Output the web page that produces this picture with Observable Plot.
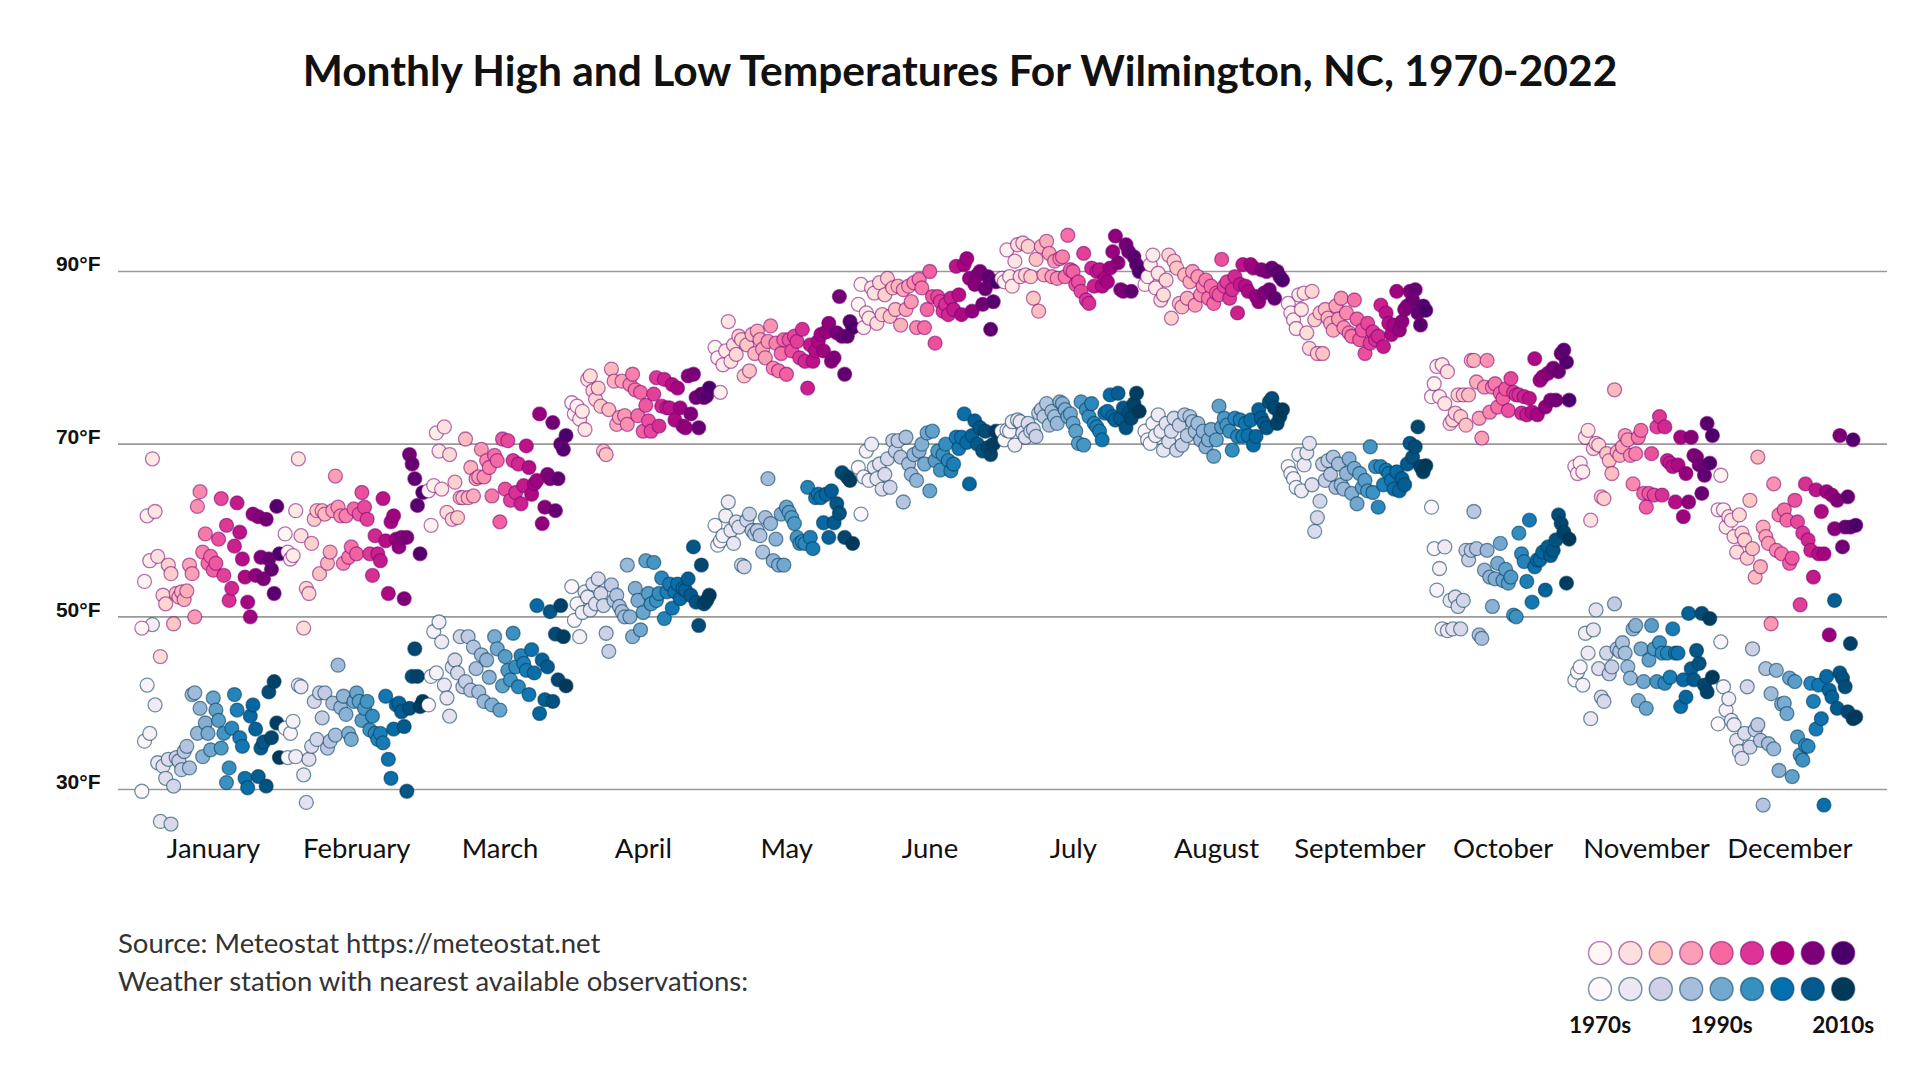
<!DOCTYPE html>
<html><head><meta charset="utf-8">
<script src="https://cdn.jsdelivr.net/npm/d3@7"></script>
<script src="https://cdn.jsdelivr.net/npm/@observablehq/plot@0.6"></script>
<style>
body{margin:0;background:#fff;}
#wrap{position:relative;width:1920px;height:1078px;overflow:hidden;font-family:Lato, sans-serif;background:#fff;}
#title{position:absolute;left:0;width:1920px;top:44px;text-align:center;font-size:42.5px;font-weight:700;color:#111;line-height:52px;}
#chart{position:absolute;left:0;top:130px;}
#source{position:absolute;left:118px;top:924px;font-size:27.5px;line-height:38px;color:#333;font-weight:400;}
#legend{position:absolute;left:1570px;top:925px;}
</style></head><body>
<div id="wrap">
 <div id="title">Monthly High and Low Temperatures For Wilmington, NC, 1970-2022</div>
 <div id="chart"></div>
 <div id="source">Source: Meteostat https://meteostat.net<br>Weather station with nearest available observations:</div>
 <div id="legend"></div>
</div>
<script>
const months = ["January","February","March","April","May","June","July","August","September","October","November","December"];
const firstYear = 1970, lastYear = 2022;
const yTicks = [30, 50, 70, 90];
const legendLabels = ["1970s", "1990s", "2010s"];

// Monthly mean high temperatures (°F), 1970..2022
const highJan = [48.7,54.1,61.7,56.5,68.3,62.2,57.0,45.4,52.5,51.5,56.0,55.0,49.2,52.7,52.3,52.9,52.0,53.0,56.0,55.0,50.0,62.8,64.5,57.5,59.6,56.2,57.0,55.4,56.2,59.0,63.7,54.8,60.6,51.9,53.3,58.2,63.2,59.8,56.7,54.6,51.7,50.0,61.9,54.8,61.6,56.9,54.4,61.3,56.7,55.5,52.7,62.8,57.3];
const highFeb = [59.6,57.5,56.7,57.1,62.3,68.3,59.4,48.7,53.3,52.7,58.5,61.3,62.3,55.0,62.3,61.9,56.2,57.5,62.3,66.3,62.7,61.7,56.2,61.7,56.9,58.1,62.5,57.3,61.9,64.4,62.7,61.3,57.3,54.8,59.4,57.3,56.5,63.7,58.8,52.7,61.0,61.7,59.0,58.1,59.2,52.1,59.2,68.8,67.7,66.0,62.9,57.3,64.4];
const highMar = [64.6,60.6,65.2,71.3,69.2,64.8,72.0,62.1,68.8,61.3,65.6,61.5,63.8,63.8,70.6,63.8,67.3,64.0,66.0,66.2,69.4,66.2,68.1,67.3,64.0,68.7,68.1,61.0,70.6,64.8,70.4,63.5,68.1,64.4,67.7,63.1,65.2,69.8,67.3,64.2,65.4,65.8,73.5,60.8,62.7,66.5,66.0,72.5,62.3,66.0,70.0,69.4,71.0];
const highApr = [74.8,73.5,74.4,72.9,73.8,71.7,77.5,77.9,76.2,75.2,76.5,74.4,69.2,68.8,74.0,78.7,77.3,72.3,73.1,77.3,73.3,72.3,76.9,78.1,76.3,73.3,76.0,71.5,74.5,72.7,71.5,75.8,77.7,72.1,74.4,77.5,74.2,74.2,76.9,72.8,76.5,74.2,72.1,71.9,77.9,73.5,78.1,75.4,71.9,75.8,75.4,75.6,76.5];
const highMay = [81.2,80.0,76.0,79.2,80.8,84.2,79.6,81.5,80.4,82.5,82.1,77.9,81.5,78.5,82.7,80.5,83.1,82.1,81.0,80.0,81.9,83.7,78.8,81.7,78.5,80.5,82.1,78.1,82.1,80.8,82.5,81.9,80.0,83.3,79.6,76.5,81.5,79.6,80.8,81.9,82.7,80.8,83.0,84.0,79.6,80.0,82.9,87.1,82.5,78.1,82.5,84.2,83.5];
const highJun = [86.2,88.5,83.5,85.2,84.6,88.1,87.5,84.0,88.7,85.0,87.3,89.2,84.8,88.1,85.6,88.3,83.8,87.9,85.6,88.3,86.5,88.7,83.5,89.1,88.1,83.5,85.6,90.0,87.1,81.7,87.1,86.5,85.4,86.2,85.0,86.9,85.6,90.6,87.3,85.0,90.8,91.5,89.2,85.4,88.5,89.6,90.0,86.2,88.0,89.4,83.3,86.5,88.8];
const highJul = [89.2,88.8,92.5,89.4,88.3,91.2,93.1,89.4,93.3,89.6,92.9,89.4,86.9,91.4,85.4,92.9,89.6,93.5,92.1,89.4,91.2,89.2,91.5,91.7,89.4,94.2,90.2,90.0,88.5,88.8,87.7,92.1,86.7,86.3,90.4,88.3,90.0,90.2,88.3,89.2,88.8,90.4,92.3,94.1,91.0,87.9,87.7,93.1,92.3,87.7,91.7,90.8,90.0];
const highAug = [88.5,89.4,90.8,91.9,88.1,89.8,86.7,87.3,89.0,91.9,84.6,91.2,90.4,86.3,85.9,89.6,86.9,88.8,90.0,86.1,89.4,87.3,88.3,89.0,86.9,88.3,86.3,87.5,87.3,91.4,88.3,88.8,86.9,87.9,89.4,85.2,88.5,90.8,88.3,87.7,90.8,90.4,87.1,86.5,90.2,87.5,90.0,87.9,90.4,86.9,90.0,89.4,89.0];
const highSep = [86.3,85.2,84.4,83.4,87.3,85.6,87.5,82.9,81.1,87.7,84.4,80.5,85.2,80.5,85.6,84.6,84.0,83.2,86.0,84.5,86.9,83.5,85.2,82.9,82.5,86.7,84.5,82.1,83.2,80.5,84.0,81.7,83.0,82.1,82.5,86.1,81.3,85.2,84.0,82.7,83.8,87.7,83.2,84.2,85.6,86.0,87.7,86.7,87.9,85.2,83.8,86.0,85.5];
const highOct = [75.5,77.0,79.0,75.5,79.2,74.7,78.4,72.4,72.8,73.6,75.7,73.2,75.7,72.2,75.7,79.7,79.7,77.2,73.0,70.7,76.6,79.7,73.7,76.6,77.0,74.3,75.9,75.3,76.4,73.9,77.6,76.0,75.7,75.7,73.6,75.5,73.4,75.3,73.7,79.9,73.4,77.4,77.8,74.3,78.2,75.1,78.8,75.1,78.4,80.5,80.9,79.5,75.1];
const highNov = [67.4,66.6,67.8,66.8,70.8,71.6,61.2,69.5,70.1,69.9,63.9,63.7,68.9,68.1,66.6,76.3,69.1,68.7,69.7,71.0,70.5,68.7,65.4,68.9,70.8,71.6,64.3,62.7,64.3,68.9,64.1,72.0,73.2,64.1,72.0,68.1,67.8,67.4,63.3,67.6,70.8,61.6,66.6,63.3,70.8,68.7,68.5,67.6,64.3,66.4,72.4,67.8,71.0];
const highDec = [62.4,66.4,62.4,60.4,61.6,61.2,59.3,57.5,61.8,59.7,58.9,56.8,63.5,57.9,54.6,68.5,55.8,60.4,59.3,58.5,49.2,65.4,57.7,61.8,57.3,62.4,61.2,56.2,56.8,63.5,61.0,51.4,59.7,65.4,58.9,57.7,54.6,64.7,57.3,62.2,57.3,64.5,47.9,64.1,60.2,63.5,71.0,58.1,60.4,63.9,60.4,70.5,60.6];

// Monthly mean low temperatures (°F), 1970..2022
const lowJan = [29.8,35.6,42.1,36.5,49.1,39.8,33.1,26.3,32.7,31.3,33.5,26.0,30.4,33.7,33.3,32.3,34.4,35.0,32.5,41.0,41.2,36.5,39.4,33.8,37.7,36.5,34.6,40.6,39.2,38.0,34.8,36.5,30.8,32.5,37.1,41.0,39.2,36.0,35.0,31.3,30.2,38.5,39.8,37.0,31.5,34.8,35.5,30.4,41.3,36.0,42.5,37.7,33.7];
const lowFeb = [37.1,33.7,36.5,37.9,33.8,42.1,41.9,31.7,28.5,33.5,35.0,40.2,35.8,41.2,38.3,41.2,34.8,35.6,40.0,36.3,44.4,39.5,40.8,38.7,36.5,35.8,40.2,41.2,40.2,38.0,39.4,40.2,36.9,38.5,36.5,35.8,36.5,35.4,40.8,33.5,31.3,37.0,39.8,40.0,39.0,37.3,29.8,39.4,43.1,46.3,43.1,39.6,40.2];
const lowMar = [39.8,43.1,48.3,43.5,49.4,47.1,42.1,40.6,38.5,44.2,45.0,43.5,47.7,41.9,42.5,47.7,41.5,46.5,44.0,41.3,45.6,40.2,45.0,43.0,39.8,47.7,46.3,39.2,42.0,45.4,43.8,42.7,48.1,44.2,41.9,45.5,44.6,43.8,41.0,46.2,43.5,51.3,38.8,45.0,40.4,44.2,50.6,40.2,48.0,42.7,51.3,47.7,42.0];
const lowApr = [53.5,49.6,51.5,47.7,50.5,52.9,52.3,50.8,53.8,51.5,54.4,52.7,51.3,48.1,46.0,53.7,51.9,52.5,51.2,50.6,50.0,56.0,50.0,47.7,53.3,51.9,48.5,50.5,56.5,52.7,51.5,56.3,51.9,52.7,54.5,49.8,52.9,53.8,51.0,52.9,53.8,52.1,53.3,53.1,54.4,52.5,58.1,51.7,49.0,56.0,51.5,51.9,52.5];
const lowMay = [60.6,58.3,58.8,59.4,61.7,63.3,60.0,58.5,61.0,60.4,56.0,55.8,61.2,61.9,60.0,59.6,60.0,59.4,57.5,61.5,66.0,60.8,56.5,59.0,56.0,61.9,56.0,62.7,62.1,61.5,60.8,59.2,58.5,58.7,58.5,65.0,59.2,57.9,63.8,64.2,63.8,60.9,64.2,59.2,64.6,60.9,63.1,62.0,66.7,59.2,66.2,65.8,58.5];
const lowJun = [67.3,61.9,66.2,69.2,65.8,70.0,67.3,66.0,67.7,64.8,66.5,68.3,65.0,70.4,69.2,70.4,68.5,63.3,70.8,67.7,66.5,68.8,65.8,69.2,70.0,67.7,71.3,64.6,71.5,68.1,69.2,67.0,68.8,70.0,68.1,66.9,67.7,70.8,69.5,70.8,73.5,70.2,65.4,71.0,72.7,70.0,71.9,69.2,71.5,69.6,68.8,70.0,71.5];
const lowJul = [71.5,70.5,71.6,71.5,72.6,69.9,72.8,72.6,71.3,70.8,72.4,71.5,71.7,70.9,73.6,74.0,73.2,74.7,72.2,73.8,73.2,72.4,74.9,74.7,74.0,73.2,73.5,72.4,71.5,70.1,74.9,69.9,74.0,73.2,74.7,72.4,72.0,71.5,70.5,73.6,73.8,75.7,73.2,72.8,75.9,73.0,74.2,71.9,73.6,73.0,74.7,75.9,73.8];
const lowAug = [71.5,70.5,70.1,72.4,71.0,73.4,71.5,69.3,72.4,70.3,71.5,73.0,69.3,72.2,69.9,73.4,71.0,73.2,72.6,71.5,72.4,70.5,71.5,69.7,70.5,71.7,68.6,70.5,74.4,72.0,73.0,72.2,71.5,69.3,73.0,70.9,72.8,70.9,72.4,71.0,72.8,69.9,70.9,74.0,73.0,72.4,71.9,74.9,75.3,74.2,72.4,73.2,74.0];
const lowSep = [67.4,66.6,66.0,65.0,68.8,64.6,67.6,69.0,70.1,65.3,59.9,61.5,63.4,67.7,65.8,68.1,66.5,68.5,65.0,67.7,65.3,64.8,66.6,68.3,64.3,67.2,63.1,66.6,65.0,65.8,64.6,69.7,64.4,67.4,62.7,67.4,65.3,67.0,66.6,65.8,64.8,66.8,64.6,66.0,65.3,67.7,70.1,68.5,69.7,72.0,67.4,66.8,67.5];
const lowOct = [62.7,57.9,53.1,55.6,48.6,58.1,48.4,51.9,48.6,52.3,51.2,48.6,51.9,57.7,56.6,57.7,62.2,57.9,47.9,47.5,55.4,57.7,54.6,51.2,54.4,56.2,58.5,54.2,55.5,53.9,54.6,50.2,50.0,59.7,57.3,56.4,54.1,61.2,51.7,55.8,56.6,56.6,57.5,53.1,58.1,57.1,57.7,58.9,61.8,60.8,59.8,53.9,59.0];
const lowNov = [42.7,43.6,44.2,42.1,48.1,45.8,38.2,48.5,50.8,44.0,40.7,40.2,45.8,43.4,44.2,51.5,46.3,46.0,47.0,45.8,44.2,42.9,48.6,49.0,40.3,46.3,42.5,39.4,45.0,49.0,46.3,42.5,47.0,45.8,42.3,45.8,43.0,48.6,45.8,45.8,39.6,42.7,40.7,50.4,44.0,42.7,46.1,44.6,50.4,42.1,41.3,49.8,43.0];
const lowDec = [37.6,47.1,41.9,39.2,40.5,38.0,37.5,35.7,34.4,33.6,36.5,41.9,34.9,46.3,36.9,37.5,35.7,28.2,44.0,35.3,41.1,34.7,43.8,32.2,39.9,40.0,38.8,42.9,31.5,42.5,36.1,34.0,33.4,35.1,35.0,42.3,40.2,37.0,42.1,38.2,28.2,43.1,41.5,40.7,51.9,39.4,43.5,42.9,41.9,39.0,46.9,38.2,38.4];

const highs = [highJan, highFeb, highMar, highApr, highMay, highJun, highJul, highAug, highSep, highOct, highNov, highDec];
const lows  = [lowJan, lowFeb, lowMar, lowApr, lowMay, lowJun, lowJul, lowAug, lowSep, lowOct, lowNov, lowDec];

function rows(series) {
  const out = [];
  series.forEach((vals, m) => vals.forEach((v, j) => out.push({month: m, year: firstYear + j, value: v})));
  return out;
}
const highRows = rows(highs);
const lowRows = rows(lows);

const highColor = d3.scaleSequential(d3.interpolateRdPu).domain([firstYear, lastYear]);
const lowColor = d3.scaleSequential(d3.interpolatePuBu).domain([firstYear, lastYear]);

// layout
const W = 1920, H = 760;
const x0 = 141.35, step = 143.3, left = 118, right = 1887;
const spread = 0.96;
const xPos = d => d.month + (d.year - firstYear) / (lastYear - firstYear) * spread;

const chart = Plot.plot({
  width: W, height: H,
  marginTop: 141, marginBottom: 101, marginLeft: left, marginRight: W - right,
  x: {domain: [(left - x0) / step, (right - x0) / step], axis: null},
  y: {domain: [30, 90], axis: null},
  color: {type: "identity"},
  style: {fontFamily: "Lato, sans-serif", background: "transparent", overflow: "visible", color: "#111"},
  marks: [
    Plot.ruleY(yTicks, {stroke: "#9a9a9a", strokeWidth: 1.6}),
    Plot.axisY(yTicks, {tickSize: 0, tickPadding: 18, tickFormat: d => d + "°F", fontSize: 21, fontWeight: "bold", fontFamily: "'Liberation Sans', Arial, sans-serif", dy: -7, label: null}),
    Plot.axisX(d3.range(12).map(i => i + 0.5), {tickSize: 0, tickPadding: 49, tickFormat: d => months[Math.floor(d)], fontSize: 27.5, label: null}),
    Plot.dot(lowRows, {x: xPos, y: "value", r: 7, fill: d => lowColor(d.year), stroke: "#023858", strokeOpacity: 0.55, strokeWidth: 1.3}),
    Plot.dot(highRows, {x: xPos, y: "value", r: 7, fill: d => highColor(d.year), stroke: "#7a0177", strokeOpacity: 0.55, strokeWidth: 1.3})
  ]
});
document.getElementById("chart").appendChild(chart);

// legend
const rdpu = d3.schemeRdPu[9], pubu = d3.schemePuBu[9];
const leg = d3.select("#legend").append("svg").attr("width", 340).attr("height", 140)
  .style("font-family", "Lato, sans-serif");
const lx = i => 30 + i * 30.4;
leg.selectAll("circle.h").data(rdpu).join("circle").attr("class", "h")
  .attr("cx", (d, i) => lx(i)).attr("cy", 28).attr("r", 11.5)
  .attr("fill", d => d).attr("stroke", "#7a0177").attr("stroke-opacity", 0.5).attr("stroke-width", 1.5);
leg.selectAll("circle.l").data(pubu).join("circle").attr("class", "l")
  .attr("cx", (d, i) => lx(i)).attr("cy", 64).attr("r", 11.5)
  .attr("fill", d => d).attr("stroke", "#023858").attr("stroke-opacity", 0.5).attr("stroke-width", 1.5);
leg.selectAll("text").data(legendLabels).join("text")
  .attr("x", (d, i) => lx(i * 4)).attr("y", 108).attr("text-anchor", "middle")
  .attr("font-size", 22.5).attr("font-weight", 700).attr("fill", "#111").text(d => d);
</script>
</body></html>
